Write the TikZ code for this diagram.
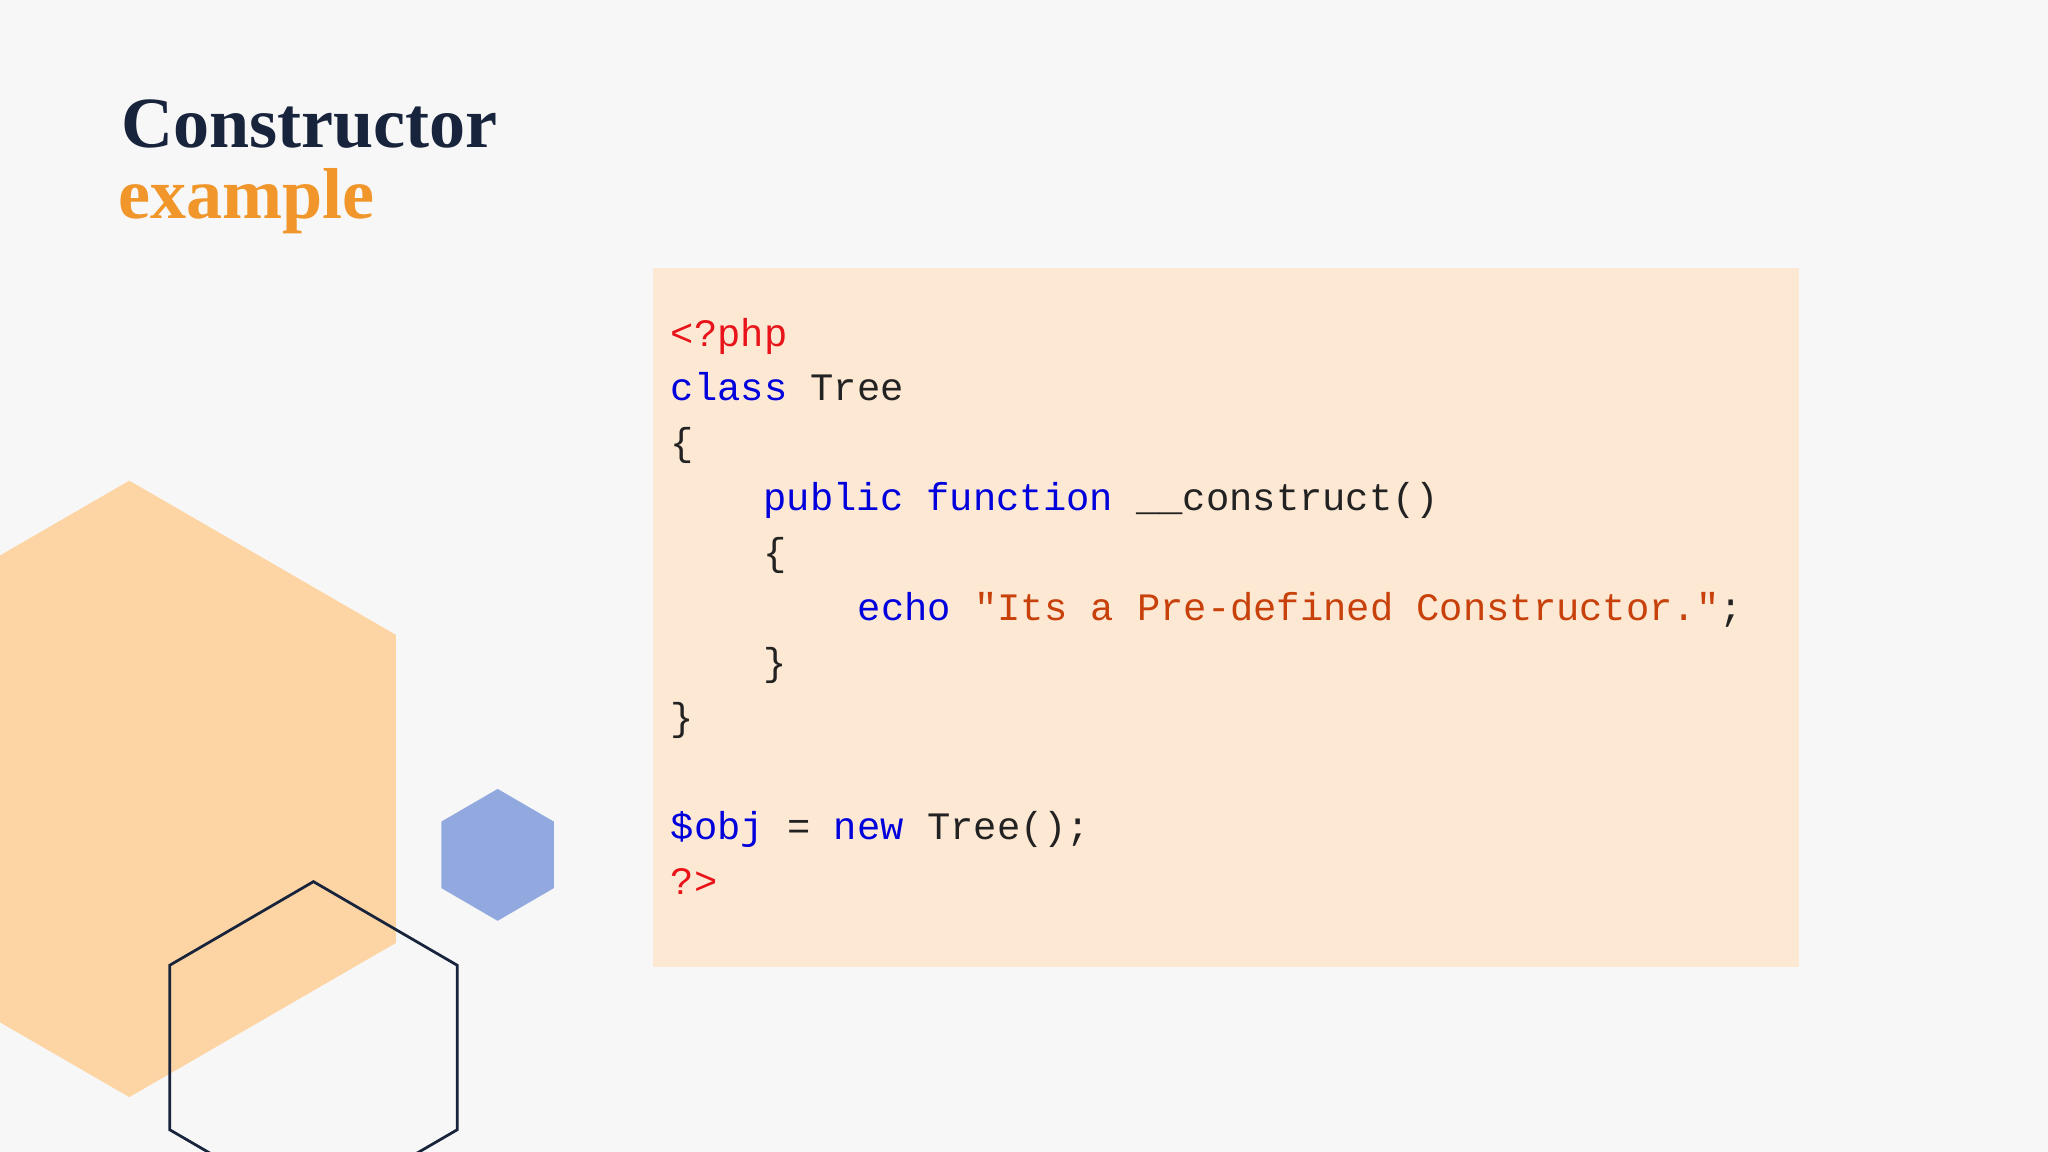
\documentclass[tikz,border=0pt]{standalone}
\usepackage{fontspec}
\setmainfont{Liberation Serif}
\setmonofont{Liberation Mono}
\definecolor{bg}{HTML}{F8F7F7}
\definecolor{codebg}{HTML}{FCE8D3}
\definecolor{hexor}{HTML}{FDD5A5}
\definecolor{hexbl}{HTML}{91A9DE}
\definecolor{navy}{HTML}{17243B}
\definecolor{orng}{HTML}{F0962A}
\definecolor{kred}{HTML}{E8141A}
\definecolor{kblue}{HTML}{0000DD}
\definecolor{kstr}{HTML}{C8400A}
\definecolor{ktxt}{HTML}{222222}
\tikzset{code/.style={anchor=base west,inner sep=0pt,font=\fontsize{8.45pt}{10pt}\ttfamily,text=ktxt},
 title/.style={anchor=base west,inner sep=0pt,font=\fontsize{15.7pt}{18pt}\bfseries}}
\begin{document}
\begin{tikzpicture}[x=0.01cm,y=-0.01cm]
\fill[bg] (0,0) rectangle (1568,882);
\useasboundingbox (0,0) rectangle (1568,882);
\clip (0,0) rectangle (1568,882);
\fill[hexor] (99,368) -- (303,486) -- (303,722) -- (99,840) -- (-105,722) -- (-105,486) -- cycle;
\fill[hexbl] (381,604) -- (424,629) -- (424,680) -- (381,705) -- (338,680) -- (338,629) -- cycle;
\draw[navy,line width=0.6pt] (240,675) -- (350,739) -- (350,865) -- (240,929) -- (130,865) -- (130,739) -- cycle;
\node[title,text=navy] (t1) at (92,113) {Constructor};
\node[title,text=orng] (t2) at (90,167) {example};
\fill[codebg] (500,205) rectangle (1377,740);
\node[code] (l1) at (513,265) {\textcolor{kred}{<?php}};
\node[code] (l2) at (513,307) {\textcolor{kblue}{class} Tree};
\node[code] (l3) at (513,349) {\{};
\node[code] (l4) at (584,391) {\textcolor{kblue}{public function} \_\_construct()};
\node[code] (l5) at (584,433) {\{};
\node[code] (l6) at (656,475) {\textcolor{kblue}{echo} \textcolor{kstr}{"Its a Pre-defined Constructor."};};
\node[code] (l7) at (584,517) {\}};
\node[code] (l8) at (513,559) {\}};
\node[code] (l9) at (513,643) {\textcolor{kblue}{\$obj} = \textcolor{kblue}{new} Tree();};
\node[code] (l10) at (513,685) {\textcolor{kred}{?>}};
\end{tikzpicture}
\end{document}
